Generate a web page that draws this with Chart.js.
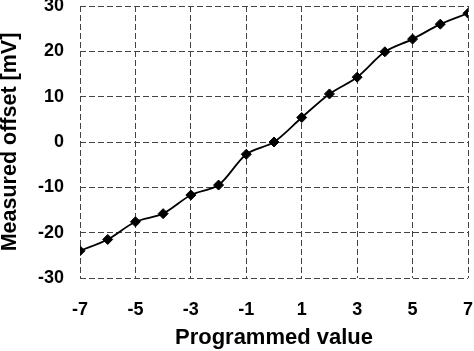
<!DOCTYPE html>
<html>
<head>
<meta charset="utf-8">
<script src="https://cdn.jsdelivr.net/npm/chart.js@4/dist/chart.umd.min.js"></script>
<style>
  html, body { margin: 0; padding: 0; background: #fff; }
  #wrap { width: 474px; height: 351px; }
</style>
</head>
<body>
<div id="wrap"><canvas id="offsetChart" width="474" height="351"></canvas></div>
<script>
// Programmed value vs measured offset
const programmed = [-7, -6, -5, -4, -3, -2, -1, 0, 1, 2, 3, 4, 5, 6, 7];
const offsetMv = [-24.0, -21.5, -17.6, -15.8, -11.7, -9.5, -2.7, 0, 5.4, 10.6, 14.3, 19.9, 22.7, 26.0, 28.4];
const xTicks = [-7, -5, -3, -1, 1, 3, 5, 7];
const yTicks = [-30, -20, -10, 0, 10, 20, 30];

const tickFont = { family: 'Liberation Sans, Arial, sans-serif', size: 18, weight: 'bold' };
const titleFont = { family: 'Liberation Sans, Arial, sans-serif', size: 22, weight: 'bold' };

const gridStyle = {
  color: '#444',
  lineWidth: 1,
  drawTicks: false
};

new Chart(document.getElementById('offsetChart'), {
  type: 'line',
  data: {
    datasets: [{
      data: programmed.map((x, i) => ({ x: x, y: offsetMv[i] })),
      borderColor: '#000',
      borderWidth: 1.8,
      backgroundColor: '#000',
      pointStyle: 'rectRot',
      pointRadius: 5,
      pointBorderWidth: 1,
      pointHoverRadius: 5,
      tension: 0.3,
      fill: false
    }]
  },
  options: {
    responsive: false,
    animation: false,
    layout: { padding: { top: 6, right: 6, left: 0, bottom: 0 } },
    plugins: { legend: { display: false }, tooltip: { enabled: false } },
    scales: {
      x: {
        type: 'linear',
        min: -7,
        max: 7,
        afterBuildTicks: axis => { axis.ticks = xTicks.map(v => ({ value: v })); },
        afterFit: axis => { axis.height = 73; axis.paddingLeft = 0; axis.paddingRight = 0; },
        grid: gridStyle,
        border: { display: false, dash: [6, 3] },
        ticks: { color: '#000', font: tickFont, padding: 21 },
        title: { display: true, text: 'Programmed value', color: '#000', font: titleFont, padding: 0 }
      },
      y: {
        min: -30,
        max: 30,
        afterBuildTicks: axis => { axis.ticks = yTicks.map(v => ({ value: v })); },
        afterFit: axis => { axis.width = 80; axis.paddingTop = 0; axis.paddingBottom = 0; },
        grid: gridStyle,
        border: { display: false, dash: [6, 3] },
        ticks: { color: '#000', font: tickFont, padding: 16 },
        title: { display: true, text: 'Measured offset [mV]', color: '#000', font: { family: titleFont.family, size: 21.5, weight: 'bold' }, padding: { top: -3, bottom: 0 } }
      }
    }
  }
});
</script>
</body>
</html>
